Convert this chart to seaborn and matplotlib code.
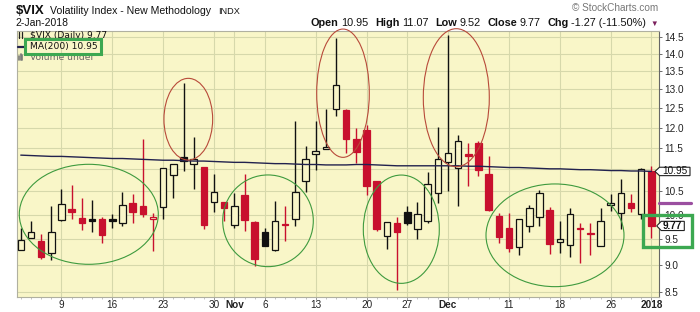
import matplotlib
matplotlib.use("Agg")
import matplotlib.pyplot as plt
import seaborn as sns
import numpy as np
import pandas as pd
from matplotlib.patches import Ellipse, Rectangle, Polygon
from matplotlib.lines import Line2D
from matplotlib.ticker import FixedLocator, FixedFormatter, NullLocator
from matplotlib.transforms import blended_transform_factory

# ---------------- data ----------------
dates = [
    "2017-10-03", "2017-10-04", "2017-10-05", "2017-10-06", "2017-10-09", "2017-10-10",
    "2017-10-11", "2017-10-12", "2017-10-13", "2017-10-16", "2017-10-17", "2017-10-18",
    "2017-10-19", "2017-10-20", "2017-10-23", "2017-10-24", "2017-10-25", "2017-10-26",
    "2017-10-27", "2017-10-30", "2017-10-31",
    "2017-11-01", "2017-11-02", "2017-11-03", "2017-11-06", "2017-11-07", "2017-11-08",
    "2017-11-09", "2017-11-10", "2017-11-13", "2017-11-14", "2017-11-15", "2017-11-16",
    "2017-11-17", "2017-11-20", "2017-11-21", "2017-11-22", "2017-11-24", "2017-11-27",
    "2017-11-28", "2017-11-29", "2017-11-30",
    "2017-12-01", "2017-12-04", "2017-12-05", "2017-12-06", "2017-12-07", "2017-12-08",
    "2017-12-11", "2017-12-12", "2017-12-13", "2017-12-14", "2017-12-15", "2017-12-18",
    "2017-12-19", "2017-12-20", "2017-12-21", "2017-12-22", "2017-12-26", "2017-12-27",
    "2017-12-28", "2017-12-29",
    "2018-01-02",
]
opens = [9.29, 9.52, 9.47, 9.23, 9.90, 10.13, 9.93, 9.92, 9.92, 9.92, 9.82, 10.26,
         10.19, 9.91, 10.16, 10.86, 11.28, 11.11, 11.06, 10.27, 10.27,
         9.78, 10.42, 9.85, 9.64, 9.29, 9.80, 9.92, 10.74, 11.36, 11.48, 12.48, 12.45,
         11.73, 11.94, 10.73, 9.56, 9.84, 10.05, 9.71, 9.88, 10.46,
         11.16, 11.03, 11.35, 11.63, 10.90, 9.98, 9.72, 9.34, 9.77, 9.95, 10.10, 9.44,
         9.38, 9.72, 9.62, 9.36, 10.21, 10.03, 10.26, 10.01,
         10.95]
highs = [9.73, 9.87, 9.60, 10.18, 10.55, 10.64, 10.36, 10.31, 9.95, 10.02, 10.48, 10.44,
         11.73, 10.04, 11.04, 11.12, 13.17, 11.77, 11.06, 10.88, 10.28,
         10.46, 10.88, 9.88, 9.73, 10.29, 10.18, 12.17, 11.55, 12.17, 12.49, 14.47, 12.48,
         11.98, 12.07, 10.74, 9.86, 9.95, 10.18, 10.27, 10.93, 12.02,
         14.57, 11.81, 11.63, 11.68, 11.32, 10.04, 10.04, 9.91, 10.20, 10.53, 10.17, 9.87,
         10.14, 9.83, 9.82, 10.15, 10.45, 10.77, 10.44, 11.04,
         11.07]
lows = [9.29, 9.52, 9.11, 9.09, 9.87, 9.92, 9.69, 9.64, 9.42, 9.73, 9.76, 9.83,
        9.95, 9.28, 9.92, 10.36, 10.97, 10.56, 9.71, 10.06, 9.88,
        9.73, 9.66, 8.98, 9.36, 9.28, 9.47, 9.77, 10.49, 10.98, 11.48, 12.30, 11.37,
        11.14, 10.42, 9.66, 9.31, 8.55, 9.78, 9.50, 9.84, 10.25,
        10.51, 10.18, 10.62, 10.84, 10.08, 9.42, 9.25, 9.19, 9.65, 9.76, 9.21, 9.23,
        9.15, 9.05, 9.19, 9.36, 10.08, 9.70, 10.05, 9.92,
        9.52]
closes = [9.49, 9.64, 9.16, 9.65, 10.23, 10.05, 9.82, 9.88, 9.59, 9.88, 10.21, 10.05,
          10.02, 9.96, 11.03, 11.11, 11.19, 11.24, 9.78, 10.48, 10.15,
          10.18, 9.89, 9.12, 9.37, 9.87, 9.78, 10.49, 11.25, 11.44, 11.53, 13.11, 11.73,
          11.40, 10.62, 9.71, 9.86, 9.64, 9.83, 10.01, 10.67, 11.25,
          11.39, 11.66, 11.31, 10.99, 10.11, 9.55, 9.32, 9.91, 10.15, 10.46, 9.40, 9.51,
          10.02, 9.70, 9.60, 9.88, 10.25, 10.46, 10.15, 11.00,
          9.77]
ma200 = [11.33, 11.32, 11.31, 11.30, 11.30, 11.29, 11.28, 11.27, 11.26, 11.25, 11.25, 11.24,
         11.23, 11.22, 11.21, 11.21, 11.20, 11.19, 11.19, 11.18, 11.17,
         11.16, 11.16, 11.15, 11.14, 11.13, 11.13, 11.12, 11.11, 11.11, 11.10, 11.10, 11.10,
         11.11, 11.11, 11.10, 11.09, 11.08, 11.08, 11.08, 11.08, 11.08,
         11.08, 11.08, 11.07, 11.07, 11.06, 11.05, 11.04, 11.04, 11.03, 11.02, 11.01, 11.01,
         11.00, 10.99, 10.99, 10.98, 10.97, 10.97, 10.96, 10.96,
         10.95]
marker_level = 10.25  # purple marker on the price axis

tick_dates = ["2017-10-09", "2017-10-16", "2017-10-23", "2017-10-30", "2017-11-01",
              "2017-11-06", "2017-11-13", "2017-11-20", "2017-11-27", "2017-12-01",
              "2017-12-11", "2017-12-18", "2017-12-26", "2018-01-02"]
tick_labels = ["9", "16", "23", "30", "Nov", "6", "13", "20", "27", "Dec", "11", "18", "26", "2018"]
bold_labels = ["Nov", "Dec", "2018"]
y_ticks = [8.5, 9.0, 9.5, 10.0, 10.5, 11.0, 11.5, 12.0, 12.5, 13.0, 13.5, 14.0, 14.5]
# the 11.0 label sits under the 10.95 price tag in the reference
y_tick_labels = ["8.5", "9.0", "9.5", "10.0", "10.5", "", "11.5", "12.0", "12.5",
                 "13.0", "13.5", "14.0", "14.5"]

# ---------------- style ----------------
W, H = 700, 312
BG = "#f9f6c8"
GRID = "#d6d8ab"
RED = "#c8102e"
BLACK = "#111111"
GREEN_BOX = "#3ca851"

sns.set_theme(style="ticks")
plt.rcParams["font.family"] = ["Liberation Sans", "DejaVu Sans"]

fx = lambda x: x / W
fy = lambda y: 1 - y / H

AX_L, AX_R, AX_T, AX_B = 16.7, 659.0, 31.0, 297.0
fig = plt.figure(figsize=(W / 100, H / 100), dpi=100)
fig.patch.set_facecolor("white")
ax = fig.add_axes([fx(AX_L), fy(AX_B), (AX_R - AX_L) / W, (AX_B - AX_T) / H])
ax.set_facecolor(BG)
ax.set_yscale("log")

df = pd.DataFrame({"date": pd.to_datetime(dates), "open": opens, "high": highs,
                   "low": lows, "close": closes, "ma": ma200})
df["i"] = np.arange(len(df))
prev = df["close"].shift(1).fillna(df["open"])
df["color"] = np.where(df["close"] >= prev, BLACK, RED)
df["filled"] = df["close"] < df["open"]
df["face"] = np.where(df["filled"], df["color"], BG)
df["lo"] = np.minimum(df["open"], df["close"])
df["h"] = np.maximum(np.abs(df["close"] - df["open"]), 0.02)

# wicks
ax.vlines(df["i"], df["low"], df["high"], colors=df["color"], lw=1.0, zorder=2)
# bodies
ax.bar(df["i"], df["h"], bottom=df["lo"], width=0.64, color=df["face"],
       edgecolor=df["color"], linewidth=0.9, zorder=3)
# 200-day MA
sns.lineplot(data=df, x="i", y="ma", color="#22224e", lw=1.0, ax=ax, zorder=4)

ax.set_xlim(-0.4, 62.75)
ax.set_ylim(8.42, 14.69)
ax.set_xlabel("")
ax.set_ylabel("")

ax.yaxis.set_major_locator(FixedLocator(y_ticks))
ax.yaxis.set_major_formatter(FixedFormatter(y_tick_labels))
ax.yaxis.set_minor_locator(NullLocator())
ax.yaxis.tick_right()
ax.tick_params(axis="y", which="major", left=False, right=True, labelleft=False,
               labelright=True, length=2.5, width=0.6, color="#555555", pad=1.5,
               labelsize=7.2, labelcolor="#222222")

tick_idx = [dates.index(d) for d in tick_dates]
ax.set_xticks(tick_idx)
ax.set_xticklabels(tick_labels)
ax.set_xticks(range(len(dates)), minor=True)
ax.tick_params(axis="x", which="major", length=2, width=0.6, color="#888888", pad=0.5,
               labelsize=7.2, labelcolor="#222222")
ax.tick_params(axis="x", which="minor", length=1.5, width=0.5, color="#aaaaaa")
for lab in ax.get_xticklabels():
    if lab.get_text() in bold_labels:
        lab.set_fontweight("bold")

ax.grid(True, which="major", color=GRID, lw=0.8)
ax.set_axisbelow(True)
for s in ax.spines.values():
    s.set_color("#b0b0a0")
    s.set_linewidth(0.8)
ax.spines["right"].set_color("#666666")

# ---------------- header texts ----------------
fig.text(fx(15.5), fy(13.5), "$VIX", fontsize=9.5, fontweight="bold", color="#111111", va="baseline")
fig.text(fx(50), fy(13.5), "Volatility Index - New Methodology", fontsize=7.6, color="#111111", va="baseline")
fig.text(fx(218), fy(13.5), "INDX", fontsize=6.6, color="#111111", va="baseline")
fig.text(fx(15), fy(26), "2-Jan-2018", fontsize=7.5, color="#111111", va="baseline")
fig.text(fx(658), fy(11), "\u00a9 StockCharts.com", fontsize=7.2, color="#777777",
         va="baseline", ha="right")

renderer = fig.canvas.get_renderer()
parts = [("Open", "bold", 0.25), ("10.95", "normal", 0.6), ("High", "bold", 0.25),
         ("11.07", "normal", 0.6), ("Low", "bold", 0.25), ("9.52", "normal", 0.6),
         ("Close", "bold", 0.25), ("9.77", "normal", 0.6), ("Chg", "bold", 0.25),
         ("-1.27 (-11.50%)", "normal", 0.0)]


def layout(size, draw):
    x = 310.7
    arts = []
    for s, w, gap in parts:
        t = fig.text(fx(x), fy(26), s, fontsize=size, fontweight=w, color="#111111", va="baseline")
        bb = t.get_window_extent(renderer)
        x += bb.width + gap * size * 100 / 72
        arts.append(t)
    if not draw:
        for t in arts:
            t.remove()
    return x


end = layout(7.8, False)
size = 7.8 * (647.5 - 310.7) / (end - 310.7)
layout(size, True)
fig.text(fx(650), fy(26), "\u25bc", fontsize=5.5, color="#7a1f5c", va="baseline")

# ---------------- in-plot legend ----------------
fig.text(fx(30), fy(35), "$VIX (Daily) 9.77", fontsize=6.6, family="DejaVu Sans",
         color="#111111", va="center")
fig.text(fx(29.5), fy(46.5), "MA(200) 10.95", fontsize=6.6, family="DejaVu Sans",
         color="#111111", va="center")
fig.text(fx(30), fy(57.5), "Volume undef", fontsize=6.6, family="DejaVu Sans",
         color="#666666", va="center")
for xs, ys in [((19, 19), (31.5, 38)), ((22.5, 22.5), (32, 37.5))]:
    fig.add_artist(Line2D([fx(v) for v in xs], [fy(v) for v in ys], color="#222222", lw=0.9))
fig.add_artist(Line2D([fx(17.5), fx(24)], [fy(46.5), fy(46.5)], color="#22224e", lw=1.6))
for bx, bh in [(18.5, 4), (20.5, 6), (22.5, 5)]:
    fig.add_artist(Line2D([fx(bx), fx(bx)], [fy(60), fy(60 - bh)], color="#777777", lw=1.2))

# green highlight boxes
fig.add_artist(Rectangle((fx(25), fy(54.3)), 76 / W, 15 / H, transform=fig.transFigure,
                         fill=False, edgecolor=GREEN_BOX, lw=2.2, zorder=10))

# ---------------- right-side price labels ----------------
blend = blended_transform_factory(ax.transAxes, ax.transData)
ax.plot([1.0, 1.05], [marker_level, marker_level], transform=blend, clip_on=False,
        color="#9b4fa0", lw=2.3, zorder=6)


def price_box(value, x_tip, x_right, half_h, text, weight):
    y = H - ax.transData.transform((0, value))[1]
    pts = [(x_tip, y), (x_tip + 4.5, y - half_h), (x_right, y - half_h),
           (x_right, y + half_h), (x_tip + 4.5, y + half_h)]
    fig.add_artist(Polygon([(fx(a), fy(b)) for a, b in pts], closed=True,
                           transform=fig.transFigure, facecolor="white",
                           edgecolor="#222222", lw=0.8, zorder=8))
    fig.text(fx((x_tip + 4.5 + x_right) / 2), fy(y), text, fontsize=7.2, fontweight=weight,
             ha="center", va="center", color="#111111", zorder=9)


price_box(ma200[-1], 655, 690, 4.2, "10.95", "normal")
price_box(closes[-1], 656.7, 684.3, 4.6, "9.77", "bold")
fig.add_artist(Rectangle((fx(643.3), fy(247.3)), 48.4 / W, 32.3 / H, transform=fig.transFigure,
                         fill=False, edgecolor=GREEN_BOX, lw=2.4, zorder=10))

# ---------------- hand-drawn ellipses ----------------
ellipses = [
    (88.8, 214.3, 139, 100, "#3e9a3e"),
    (188.3, 119.2, 48.7, 81.7, "#b84a3a"),
    (268.0, 220.8, 90.6, 91.7, "#3e9a3e"),
    (343.0, 93.2, 52.6, 128.3, "#b84a3a"),
    (401.3, 229.2, 76.0, 108.3, "#3e9a3e"),
    (456.3, 97.7, 66.0, 138.0, "#b84a3a"),
    (555.0, 235.3, 138.0, 102.7, "#3e9a3e"),
]
for cx, cy, w, h, c in ellipses:
    fig.add_artist(Ellipse((fx(cx), fy(cy)), w / W, h / H, transform=fig.transFigure,
                           fill=False, edgecolor=c, lw=0.8, zorder=7))

fig.savefig("out.png", dpi=100, facecolor="white")
